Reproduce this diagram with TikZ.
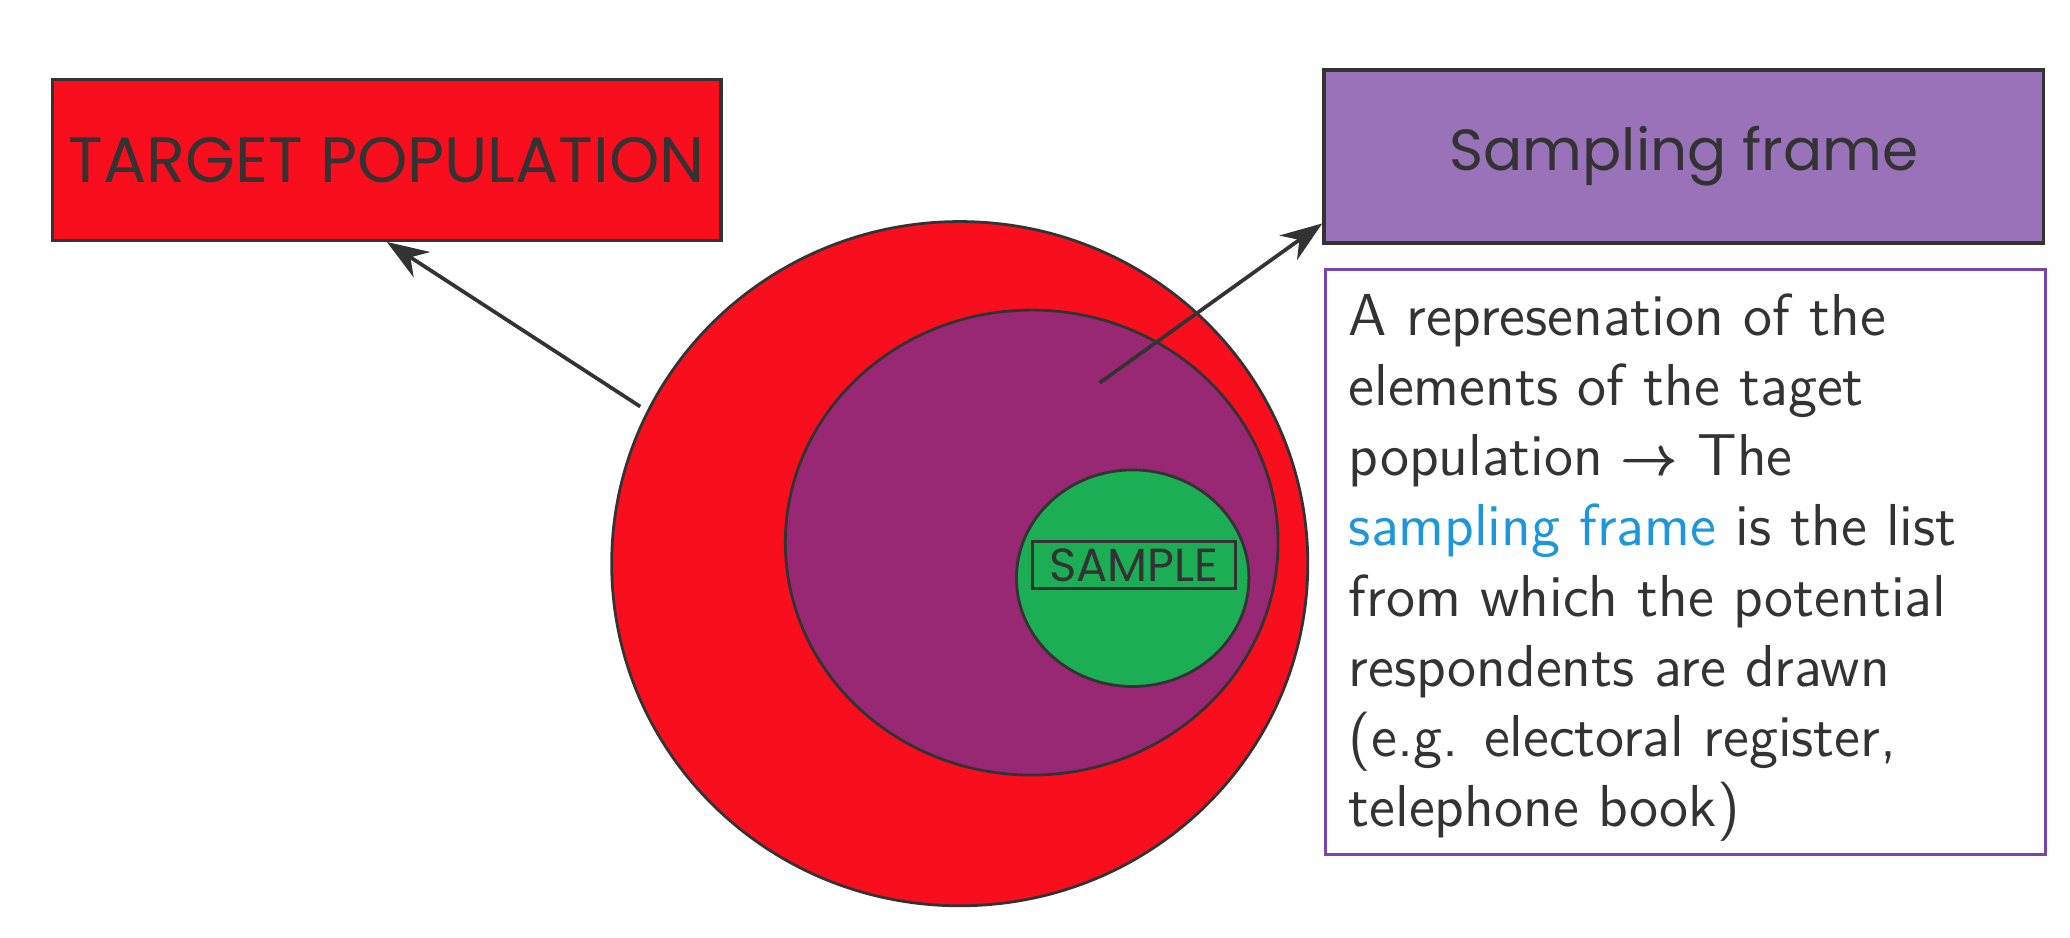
\documentclass[tikz,border=0pt]{standalone}
\usepackage{fontspec}
\usepackage{amsmath,amssymb}
\usetikzlibrary{shapes.geometric,arrows.meta,calc}
\newfontfamily\comicfont{Poppins}
\definecolor{tpred}{RGB}{249,14,30}
\definecolor{frpurple}{RGB}{152,40,116}
\definecolor{smgreen}{RGB}{27,174,84}
\definecolor{sflilac}{RGB}{154,114,185}
\definecolor{ink}{RGB}{51,51,51}
\definecolor{linkblue}{RGB}{29,150,220}
\definecolor{boxedge}{RGB}{120,70,170}
\tikzset{
  titlebox/.style={draw=ink, line width=0.7pt, minimum height=1.22cm, text=ink, inner sep=0pt},
  blob/.style={ellipse, draw=ink, line width=0.6pt, inner sep=0pt},
  pointer/.style={draw=ink, line width=0.8pt, -{Stealth[length=9pt,width=6.5pt]}},
}
\begin{document}
\begin{tikzpicture}[x=0.01cm,y=-0.01cm]
\path[use as bounding box, fill=white] (0,0) rectangle (1568,710.5);
% boxes
\node[titlebox, fill=tpred, minimum width=5.06cm, font=\comicfont\fontsize{13.8}{16}\selectfont] (tp) at (293,121) {TARGET POPULATION};
\node[titlebox, fill=sflilac, minimum width=5.45cm, minimum height=1.31cm, font=\comicfont\fontsize{12.5}{15}\selectfont] (sf) at (1275.5,118.5) {Sampling frame};
\node[draw=boxedge, line width=0.6pt, minimum width=5.45cm, minimum height=4.43cm, anchor=north west, inner sep=0pt] (descbox) at (1003,203) {};
\node[anchor=north west, inner sep=0pt, text=ink, align=left,
      font=\sffamily\fontsize{12.75}{15.1}\selectfont] (desc) at (1021,222)
  {A represenation of the\\
   elements of the taget\\
   population $\pmb{\rightarrow}$ The\\
   \textcolor{linkblue}{sampling frame} is the list\\
   from which the potential\\
   respondents are drawn\\
   (e.g. electoral register,\\
   telephone book)};
% circles
\node[blob, fill=tpred, minimum width=5.27cm, minimum height=5.18cm] (pop) at (727,427) {};
\node[blob, fill=frpurple, minimum width=3.73cm, minimum height=3.52cm] (frame) at (781.5,411) {};
\node[blob, fill=smgreen, minimum width=1.76cm, minimum height=1.64cm] (smp) at (858,438) {};
\node[draw=ink, line width=0.6pt, minimum width=1.54cm, minimum height=0.36cm, inner sep=0pt, text=ink,
      font=\comicfont\fontsize{10}{12}\selectfont] (smplabel) at (859,428) {SAMPLE};
% arrows
\coordinate (a1) at (485,308);
\coordinate (a2) at (833,290);
\coordinate (sfin) at ($(sf.south west)+(0,-16)$);
\draw[pointer] (a1) -- (tp.south);
\draw[pointer] (a2) -- (sfin);
\end{tikzpicture}
\end{document}
